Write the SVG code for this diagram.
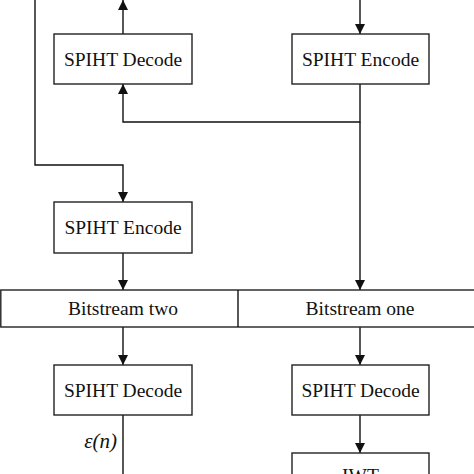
<svg xmlns="http://www.w3.org/2000/svg" width="474" height="474" viewBox="0 0 474 474">
<style>
.box{fill:#fff;stroke:#222;stroke-width:1.4}
.ln{fill:none;stroke:#111;stroke-width:1.4}
.t{font-family:"Liberation Serif","Times New Roman",serif;font-size:19.5px;fill:#111;text-anchor:middle}
.m{font-family:"Liberation Serif","Times New Roman",serif;font-size:21px;font-style:italic;fill:#111;text-anchor:end}
</style>
<defs>
<marker id="ah" markerWidth="10" markerHeight="10" refX="10" refY="5" orient="auto" markerUnits="userSpaceOnUse">
<path d="M0,0 L10,5 L0,10 Z" fill="#111"/>
</marker>
</defs>
<rect width="474" height="474" fill="#fff"/>
<g id="connectors">
<line class="ln" x1="123" y1="34" x2="123" y2="0" marker-end="url(#ah)"/>
<line class="ln" x1="360" y1="-5" x2="360" y2="34" marker-end="url(#ah)"/>
<polyline class="ln" points="360,84 360,122 123,122 123,84" marker-end="url(#ah)"/>
<line class="ln" x1="360" y1="122" x2="360" y2="290" marker-end="url(#ah)"/>
<polyline class="ln" points="35,-5 35,165 123,165 123,202" marker-end="url(#ah)"/>
<line class="ln" x1="123" y1="253" x2="123" y2="290" marker-end="url(#ah)"/>
<line class="ln" x1="123" y1="327" x2="123" y2="365" marker-end="url(#ah)"/>
<line class="ln" x1="360" y1="327" x2="360" y2="365" marker-end="url(#ah)"/>
<line class="ln" x1="123" y1="415" x2="123" y2="480"/>
<line class="ln" x1="360" y1="415" x2="360" y2="453" marker-end="url(#ah)"/>
<text class="m" x="117" y="448">ε(n)</text>
</g>
<g id="decode1">
<rect class="box" x="54" y="34" width="138" height="50"/>
<text class="t" x="123" y="66">SPIHT Decode</text>
</g>
<g id="encode1">
<rect class="box" x="292" y="34" width="137" height="50"/>
<text class="t" x="360.5" y="66">SPIHT Encode</text>
</g>
<g id="encode2">
<rect class="box" x="54" y="202" width="138" height="51"/>
<text class="t" x="123" y="234">SPIHT Encode</text>
</g>
<g id="bitstream">
<rect class="box" x="0.8" y="290" width="480" height="37"/>
<line class="ln" x1="238" y1="290" x2="238" y2="327"/>
<text class="t" x="123" y="315">Bitstream two</text>
<text class="t" x="360" y="315">Bitstream one</text>
</g>
<g id="decode2">
<rect class="box" x="54" y="365" width="138" height="50"/>
<text class="t" x="123" y="397">SPIHT Decode</text>
</g>
<g id="decode3">
<rect class="box" x="292" y="365" width="137" height="50"/>
<text class="t" x="360.5" y="397">SPIHT Decode</text>
</g>
<g id="iwt">
<rect class="box" x="292" y="453" width="137" height="40"/>
<text class="t" x="360.5" y="482">IWT</text>
</g>
</svg>
